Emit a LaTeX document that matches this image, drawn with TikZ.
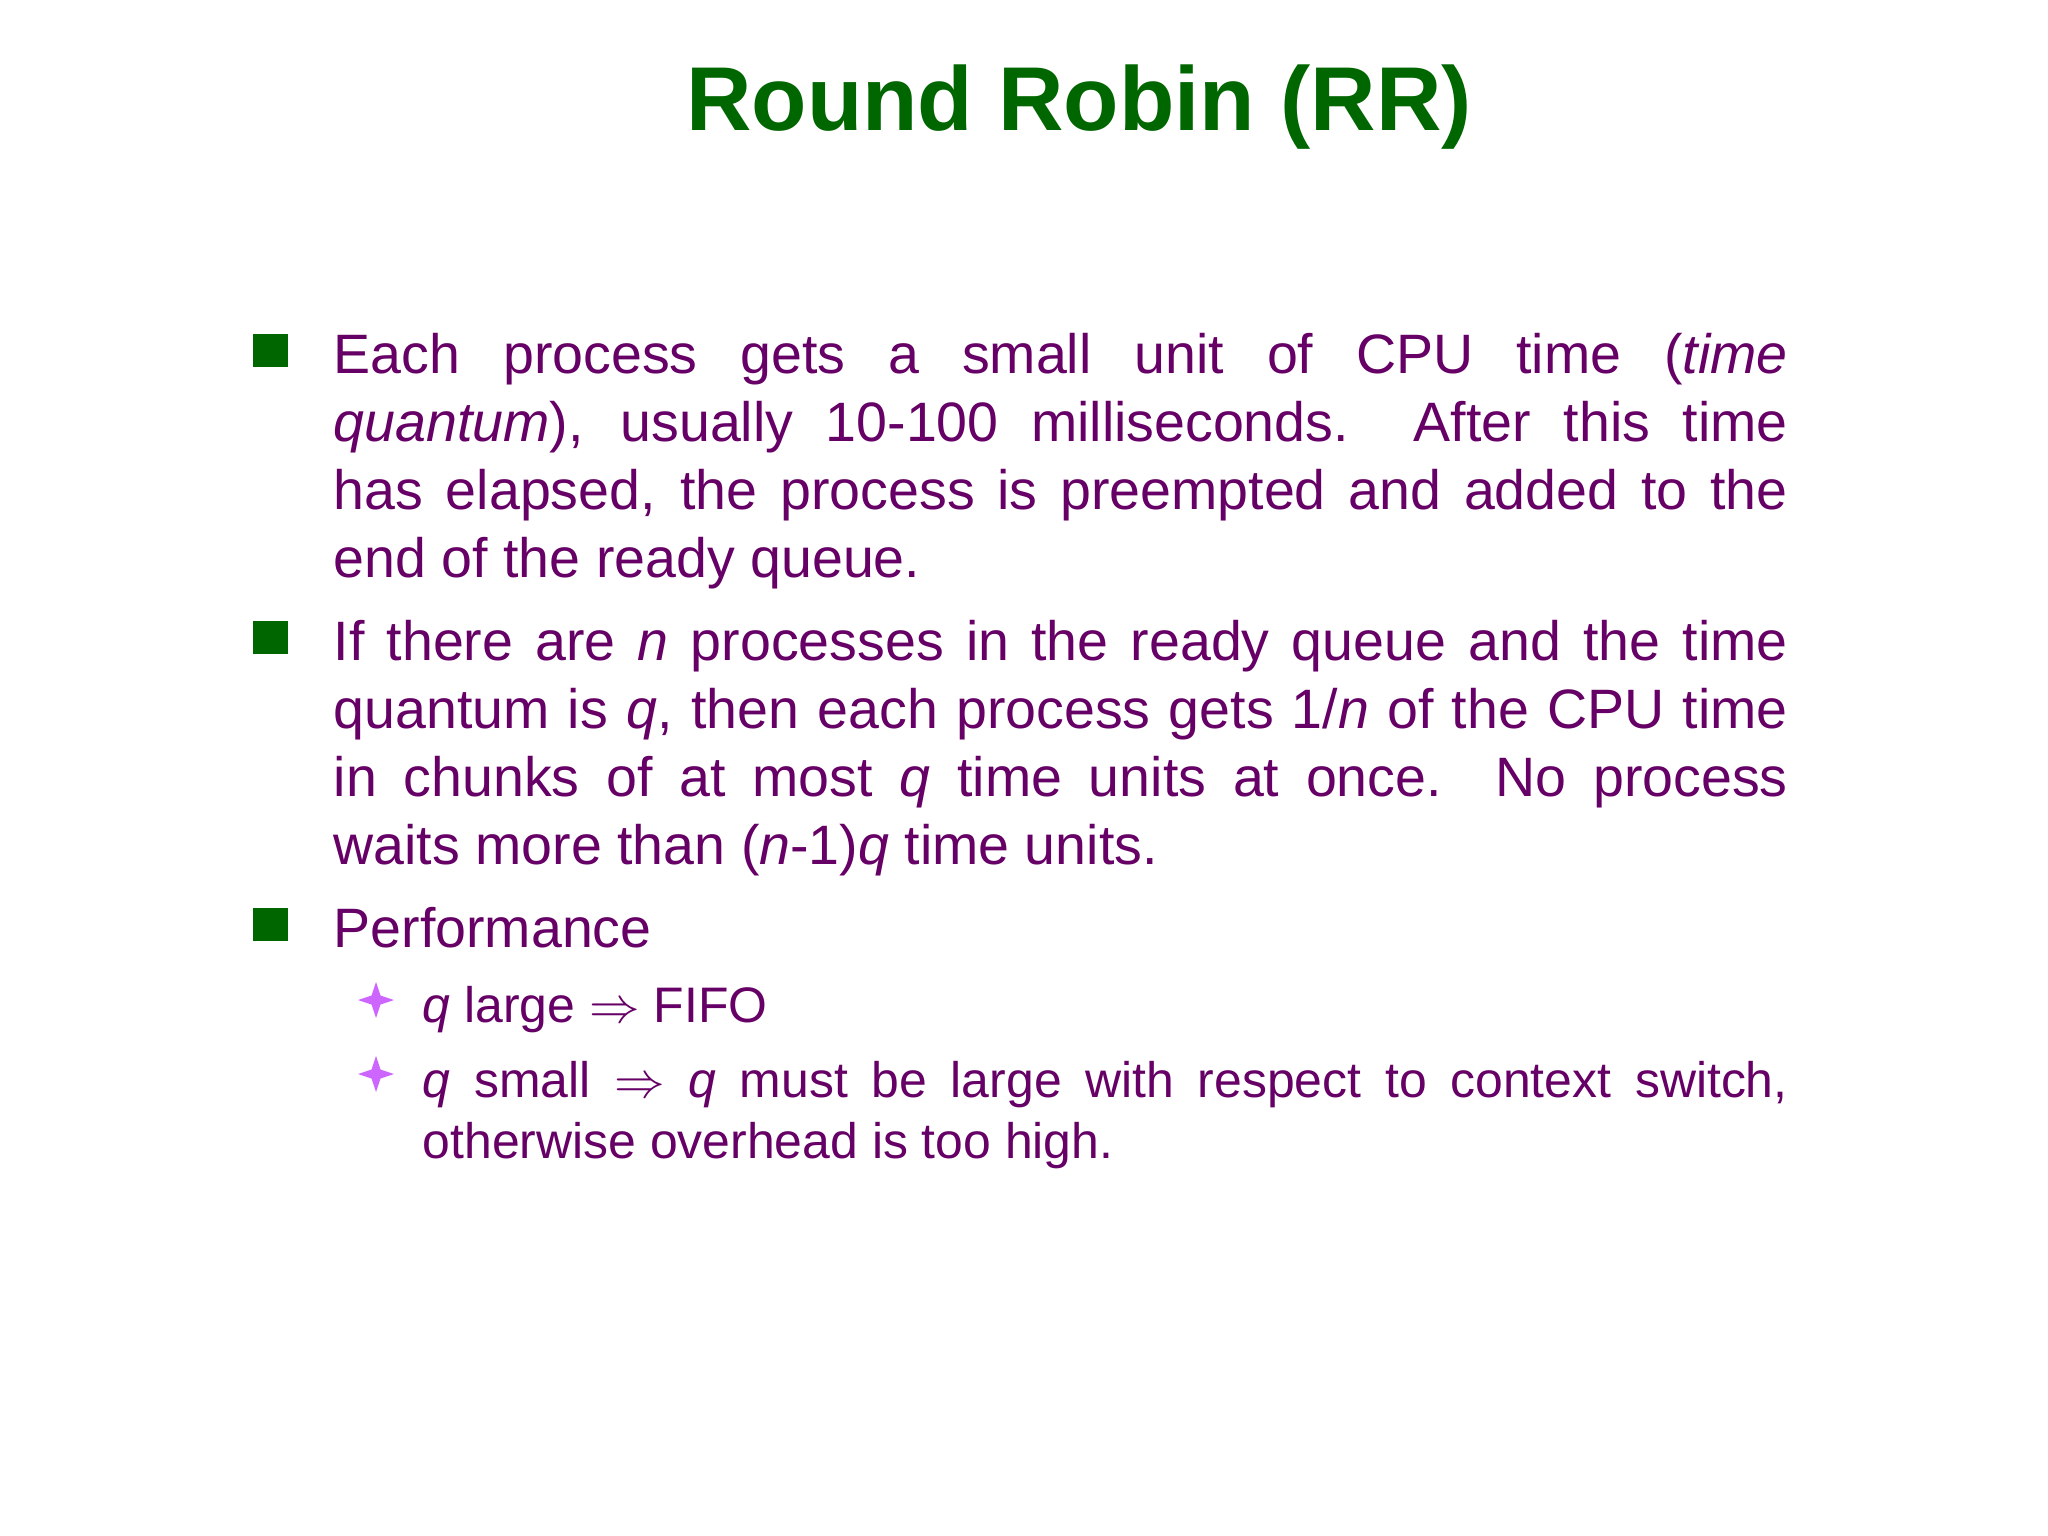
\documentclass[tikz,border=0pt]{standalone}
\usepackage{fontspec}
\setmainfont{Liberation Sans}
\definecolor{ttlgreen}{HTML}{006600}
\definecolor{txtpurple}{HTML}{660066}
\definecolor{starpurple}{HTML}{CC66FF}
\tikzset{
  para/.style={anchor=north west,inner sep=0pt,text width=14.54cm,align=justify,text=txtpurple,
    font=\fontsize{15.8pt}{19.3pt}\selectfont},
  subpara/.style={anchor=north west,inner sep=0pt,text width=13.65cm,align=justify,text=txtpurple,
    font=\fontsize{14.2pt}{17.45pt}\selectfont},
  sqbullet/.style={fill=ttlgreen,draw=none,minimum width=0.35cm,minimum height=0.33cm,inner sep=0pt,anchor=north west},
}
\newcommand{\mystar}[2]{\fill[starpurple] (#1,#2) ++(0,0.18) -- ++(0.045,-0.135) -- ++(0.135,-0.045) -- ++(-0.135,-0.045) -- ++(-0.045,-0.135) -- ++(-0.045,0.135) -- ++(-0.135,0.045) -- ++(0.135,0.045) -- cycle;}
\begin{document}
\begin{tikzpicture}
\useasboundingbox[fill=white] (0,0) rectangle (20.48,-15.36);
\node[font=\fontsize{25.8pt}{30pt}\selectfont\bfseries,text=ttlgreen,anchor=base] (title) at (10.79,-1.31) {Round Robin (RR)};
\node[sqbullet] (b1) at (2.52,-3.33) {};
\node[sqbullet] (b2) at (2.52,-6.20) {};
\node[sqbullet] (b3) at (2.52,-9.07) {};
\node[para] (p1) at (3.33,-3.73+0.476) {\strut Each process gets a small unit of CPU time (\textit{time}\linebreak
\textit{quantum}), usually 10-100 milliseconds.\ \ After this time\linebreak
has elapsed, the process is preempted and added to the\linebreak
end of the ready queue.};
\node[para] (p2) at (3.33,-6.60+0.476) {\strut If there are \textit{n} processes in the ready queue and the time\linebreak
quantum is \textit{q}, then each process gets 1/\textit{n} of the CPU time\linebreak
in chunks of at most \textit{q} time units at once.\ \ No process\linebreak
waits more than (\textit{n}-1)\textit{q} time units.};
\node[para] (p3) at (3.33,-9.47+0.476) {\strut Performance};
\mystar{3.76}{-10.00}
\mystar{3.76}{-10.74}
\node[subpara] (s1) at (4.22,-10.22+0.43) {\strut\textit{q} large $\Rightarrow$ FIFO};
\node[subpara] (s2) at (4.22,-10.97+0.43) {\strut\textit{q} small $\Rightarrow$ \textit{q} must be large with respect to context switch,\linebreak
otherwise overhead is too high.};
\end{tikzpicture}
\end{document}
